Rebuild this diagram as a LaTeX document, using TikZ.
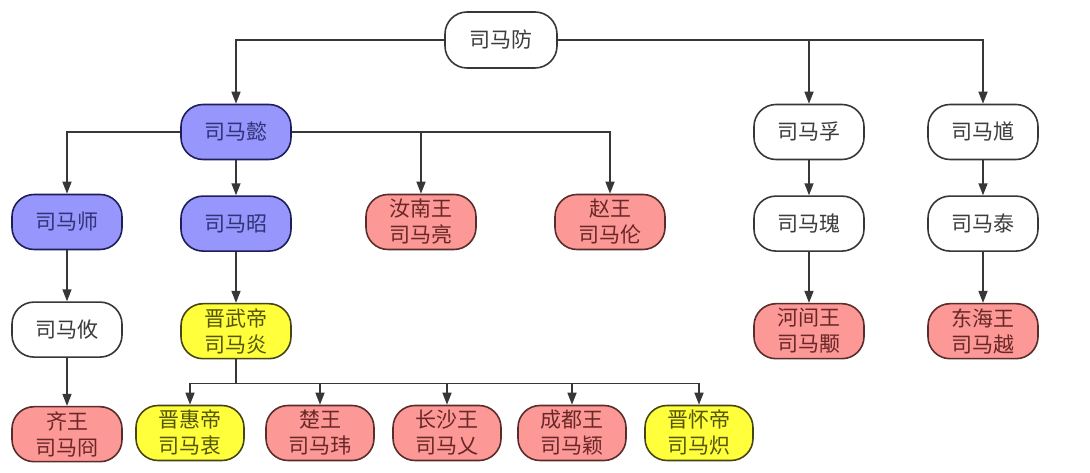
\documentclass[tikz,border=0pt]{standalone}
\usepackage{fontspec}
\setmainfont{Noto Sans CJK SC}
\usepackage{tikz}
\usetikzlibrary{positioning,arrows.meta,calc}
\usepackage{xcolor}
\definecolor{lineclr}{RGB}{55,55,55}
\definecolor{elder}{RGB}{150,150,252}
\definecolor{elderln}{RGB}{30,30,90}
\definecolor{elderfg}{RGB}{50,50,120}
\definecolor{prince}{RGB}{252,152,150}
\definecolor{princeln}{RGB}{90,45,45}
\definecolor{princefg}{RGB}{105,40,40}
\definecolor{emperor}{RGB}{255,255,60}
\definecolor{emperorln}{RGB}{70,70,20}
\definecolor{emperorfg}{RGB}{85,85,10}
\definecolor{plainfg}{RGB}{60,60,60}

\begin{document}
\begin{tikzpicture}[
    x=1pt, y=1pt,
    person/.style={draw=lineclr, line width=1.6pt, rounded corners=22pt, minimum width=110pt, minimum height=55pt,
        inner sep=2pt, align=center, fill=white, text=plainfg, font=\fontsize{21}{26}\selectfont},
    elderbox/.style={person, fill=elder, draw=elderln, text=elderfg},
    princebox/.style={person, fill=prince, draw=princeln, text=princefg},
    emperorbox/.style={person, fill=emperor, draw=emperorln, text=emperorfg},
    arrow/.style={-{Triangle[length=12pt, width=9pt]}, line width=1.5pt, draw=lineclr}
]
    \useasboundingbox (0,0) rectangle (1090,473);

    % generation 1 and 2
    \node[person, minimum width=112pt, minimum height=56pt] (fang) at (501,433) {司马防};
    \node[elderbox] (yi) at (236,341) {司马懿};
    \node[person] (fu) at (809,341) {司马孚};
    \node[person] (kui) at (983,341) {司马馗};

    % generation 3
    \node[elderbox] (shi) at (67,251) {司马师};
    \node[elderbox, below=35pt of yi] (zhao) {司马昭};
    \node[princebox] (liang) at (421,251) {汝南王\\司马亮};
    \node[princebox] (lun) at (610,251) {赵王\\司马伦};
    \node[person, below=35pt of fu] (gui) {司马瑰};
    \node[person, below=35pt of kui] (tai) {司马泰};

    % generation 4
    \node[person, below=51pt of shi] (you) {司马攸};
    \node[emperorbox, below=51pt of zhao] (yan) {晋武帝\\司马炎};
    \node[princebox, below=51pt of gui] (yong) {河间王\\司马颙};
    \node[princebox, below=51pt of tai] (yue) {东海王\\司马越};

    % generation 5
    \node[princebox, below=48pt of you] (jiong) {齐王\\司马冏};
    \node[emperorbox, minimum width=108pt] (zhong) at (190,40) {晋惠帝\\司马衷};
    \node[princebox, minimum width=108pt] (wei) at (320,40) {楚王\\司马玮};
    \node[princebox, minimum width=108pt] (ai) at (447,40) {长沙王\\司马乂};
    \node[princebox, minimum width=108pt] (ying) at (572,40) {成都王\\司马颖};
    \node[emperorbox, minimum width=108pt] (chi) at (699,40) {晋怀帝\\司马炽};

    \draw[arrow] (fang.west) -| (yi.north);
    \draw[arrow] (fang.east) -| (fu.north);
    \draw[arrow] (fang.east) -| (kui.north);

    \draw[arrow] (yi.west) -| (shi.north);
    \draw[arrow] (yi) -- (zhao);
    \draw[arrow] (yi.east) -| (liang.north);
    \draw[arrow] (yi.east) -| (lun.north);
    \draw[arrow] (fu) -- (gui);
    \draw[arrow] (kui) -- (tai);

    \draw[arrow] (shi) -- (you);
    \draw[arrow] (zhao) -- (yan);
    \draw[arrow] (gui) -- (yong);
    \draw[arrow] (tai) -- (yue);
    \draw[arrow] (you) -- (jiong);

    \coordinate (bus) at ($(yan.south)+(0,-24)$);
    \foreach \kid in {zhong,wei,ai,ying,chi}
        \draw[arrow] (yan.south) -- (bus) -| (\kid.north);
\end{tikzpicture}
\end{document}
